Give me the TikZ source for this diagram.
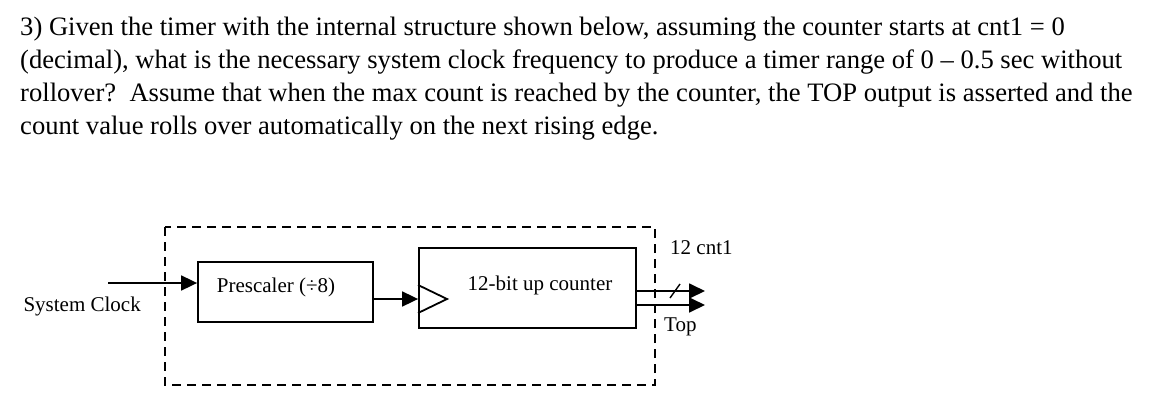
\documentclass[tikz,border=0pt]{standalone}
\usepackage{fontspec}
\setmainfont{Liberation Serif}
\usetikzlibrary{arrows.meta}
\begin{document}
\begin{tikzpicture}[x=1pt,y=-1pt,
  txt/.style={anchor=west,inner sep=0pt,font=\fontsize{26.6}{30}\selectfont},
  lbl/.style={inner sep=0pt,font=\fontsize{21}{24}\selectfont},
  blk/.style={draw,line width=1.8pt,inner sep=0pt},
  sig/.style={line width=1.8pt,-{Triangle[length=16pt,width=15pt]}}]
\useasboundingbox (0,0) rectangle (1154,418);
\node[txt] (l1) at (20,29) {3) Given the timer with the internal structure shown below, assuming the counter starts at cnt1 = 0};
\node[txt] (l2) at (20,62) {(decimal), what is the necessary system clock frequency to produce a timer range of 0 -- 0.5 sec without};
\node[txt] (l3) at (20,95) {rollover?\ \ Assume that when the max count is reached by the counter, the TOP output is asserted and the};
\node[txt] (l4) at (20,128) {count value rolls over automatically on the next rising edge.};
\draw[line width=1.8pt,dash pattern=on 9pt off 6pt] (165,227) rectangle (655,385);
\node[blk,minimum width=175pt,minimum height=60pt] (pre) at (285.5,292) {};
\node[lbl] at (276,287) {Prescaler (÷8)};
\node[blk,minimum width=217pt,minimum height=80pt] (cnt) at (527.5,288) {};
\node[lbl] at (540,285) {12-bit up counter};
\node[lbl,anchor=east] (sc) at (141,306) {System Clock};
\coordinate (in) at (108,283);
\draw[sig] (in) -- (in -| pre.west);
\draw[sig] (pre.east |- 0,299) -- (cnt.west |- 0,299);
\draw[line width=1.8pt] (cnt.west |- 0,285) -- (447,299) -- (cnt.west |- 0,313);
\coordinate (o1) at (705,291);
\coordinate (o2) at (705,327);
\draw[sig] (cnt.east |- o1) -- (o1);
\draw[sig] (cnt.east |- 0,305) -- (o2 |- 0,305);
\draw[line width=1.4pt] (670,298) -- (680,284);
\node[lbl,anchor=west] (c1) at (670,248) {12 cnt1};
\node[lbl,anchor=west] (top) at (664,327) {Top};
\end{tikzpicture}
\end{document}
